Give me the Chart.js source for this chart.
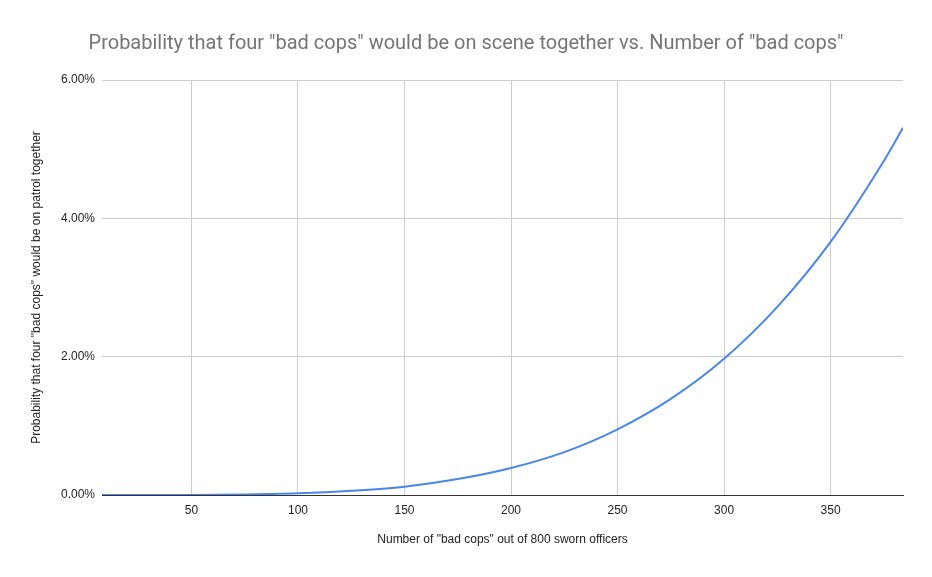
<!DOCTYPE html>
<html>
<head>
<meta charset="utf-8">
<script src="https://cdn.jsdelivr.net/npm/chart.js@4.4.0/dist/chart.umd.min.js"></script>
<style>
  html, body { margin: 0; padding: 0; background: #fff; }
  #wrap { width: 932px; height: 577px; }
</style>
</head>
<body>
<div id="wrap"><canvas id="chart"></canvas></div>
<script>
// number of "bad cops" out of 800
const badCops = [8, 25, 50, 75, 100, 125, 150, 175, 200, 225, 250, 275, 300, 325, 350, 375, 384];
// probability (%)
const probability = [0, 0.0001, 0.0015, 0.008, 0.024, 0.06, 0.12, 0.23, 0.39, 0.62, 0.95, 1.39, 1.97, 2.72, 3.66, 4.83, 5.31];
const yTicks = [0, 2, 4, 6];

const points = badCops.map((x, i) => ({ x: x, y: probability[i] }));

new Chart(document.getElementById('chart'), {
  type: 'line',
  data: {
    datasets: [{
      data: points,
      borderColor: '#4a86e8',
      borderWidth: 2,
      pointRadius: 0,
      cubicInterpolationMode: 'monotone',
      fill: false
    }]
  },
  options: {
    responsive: true,
    maintainAspectRatio: false,
    animation: false,
    layout: { padding: 0 },
    plugins: {
      legend: { display: false },
      tooltip: { enabled: false },
      title: {
        display: true,
        text: 'Probability that four "bad cops" would be on scene together vs. Number of "bad cops"',
        color: '#757575',
        font: { family: 'Roboto', size: 20, weight: 'normal' },
        padding: { top: 32, bottom: 24 }
      }
    },
    scales: {
      x: {
        type: 'linear',
        min: 8,
        max: 384,
        afterBuildTicks: s => { s.ticks = s.ticks.filter(t => t.value % 50 === 0); },
        afterFit: s => { s.height = 82; },
        ticks: {
          stepSize: 50,
          color: '#222',
          padding: 8,
          maxRotation: 0,
          font: { family: 'Liberation Sans', size: 12 }
        },
        grid: { color: '#cccccc', drawTicks: false },
        border: { color: '#333333', width: 1 },
        title: {
          display: true,
          text: 'Number of "bad cops" out of 800 sworn officers',
          color: '#222',
          font: { family: 'Liberation Sans', size: 12 },
          padding: { top: 0, bottom: 30 }
        }
      },
      y: {
        min: 0,
        max: 6,
        afterBuildTicks: s => { s.ticks = yTicks.map(v => ({ value: v })); },
        afterFit: s => { s.width = 102; },
        ticks: {
          color: '#222',
          padding: 7,
          font: { family: 'Liberation Sans', size: 12 },
          callback: v => v.toFixed(2) + '%'
        },
        grid: { color: '#cccccc', drawTicks: false },
        border: { display: false },
        title: {
          display: true,
          text: 'Probability that four "bad cops" would be on patrol together',
          color: '#222',
          font: { family: 'Liberation Sans', size: 12 },
          padding: { top: 29, bottom: 0 }
        }
      },
      // empty right-hand spacer so the title centres on the full canvas
      yRight: {
        position: 'right',
        min: 0,
        max: 1,
        afterFit: s => { s.width = 29; },
        ticks: { display: false },
        grid: { display: false },
        border: { display: false }
      }
    }
  }
});
</script>
</body>
</html>
